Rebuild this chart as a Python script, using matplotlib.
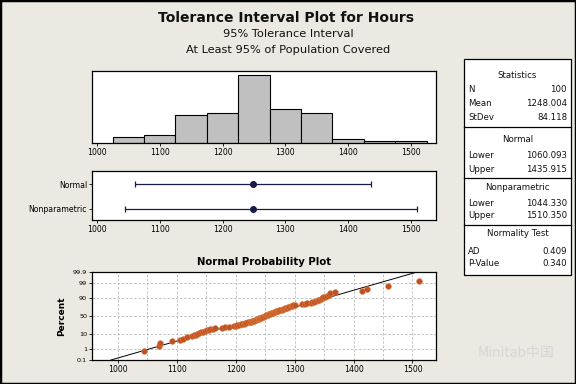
import matplotlib
matplotlib.use("Agg")
import matplotlib.pyplot as plt
from matplotlib.patches import Rectangle
from matplotlib.lines import Line2D
from statistics import NormalDist

# ---------------- data ----------------
hours = [1044.33, 1070, 1072,
         1092, 1106, 1111, 1117,
         1126, 1129, 1132, 1135, 1138, 1141, 1144, 1147, 1151, 1154, 1157, 1161, 1165,
         1177, 1182, 1188, 1197, 1200, 1203, 1206, 1209, 1211, 1214, 1216, 1218, 1221, 1224,
         1226, 1228, 1229, 1231, 1233, 1234, 1236, 1237, 1239, 1240, 1242, 1243, 1244, 1246,
         1247, 1249, 1250, 1251, 1253, 1254, 1256, 1257, 1259, 1260, 1262, 1263, 1265, 1267,
         1268, 1270, 1272, 1274,
         1276, 1278, 1280, 1282, 1283, 1285, 1287, 1289, 1291, 1293, 1295, 1297, 1300, 1313, 1317, 1321,
         1327, 1330, 1333, 1336, 1339, 1341, 1344, 1346, 1349, 1352, 1355, 1358, 1360, 1369,
         1414, 1423, 1459, 1510.35]
bin_edges = [1025, 1075, 1125, 1175, 1225, 1275, 1325, 1375, 1425, 1475, 1525]

interval_labels = ["Normal", "Nonparametric"]
interval_lower = [1060.093, 1044.330]
interval_upper = [1435.915, 1510.350]
mean_value = 1248.004
stdev_value = 84.118

prob_ticks = [0.1, 1, 10, 50, 90, 99, 99.9]
prob_tick_labels = ["0.1", "1", "10", "50", "90", "99", "99.9"]

table_rows = [
    ("header", "Statistics", ""),
    ("row", "N", "100"),
    ("row", "Mean", "1248.004"),
    ("row", "StDev", "84.118"),
    ("header", "Normal", ""),
    ("row", "Lower", "1060.093"),
    ("row", "Upper", "1435.915"),
    ("header", "Nonparametric", ""),
    ("row", "Lower", "1044.330"),
    ("row", "Upper", "1510.350"),
    ("header", "Normality Test", ""),
    ("row", "AD", "0.409"),
    ("row", "P-Value", "0.340"),
]

# ---------------- figure ----------------
W, H = 576, 384
BG = "#ECE9E2"
fig = plt.figure(figsize=(W / 100, H / 100), dpi=100, facecolor=BG)
plt.rcParams["font.family"] = ["DejaVu Sans"]


def px_axes(left, top, right, bottom):
    return fig.add_axes([left / W, 1 - bottom / H, (right - left) / W, (bottom - top) / H])


def fx(x):
    return x / W


def fy(y):
    return 1 - y / H


TICK_FS = 5.6

# titles
fig.text(fx(286), fy(18), "Tolerance Interval Plot for Hours", ha="center", va="center",
         fontsize=10, fontweight="bold", color="#111111")
fig.text(fx(288), fy(34), "95% Tolerance Interval", ha="center", va="center",
         fontsize=8.2, color="#111111")
fig.text(fx(288), fy(50), "At Least 95% of Population Covered", ha="center", va="center",
         fontsize=8.2, color="#111111")

# ---------------- histogram ----------------
ax1 = px_axes(92, 71, 436, 143)
ax1.hist(hours, bins=bin_edges, color="#C0C0C0", edgecolor="black", linewidth=0.8)
ax1.set_xlim(992, 1540)
ax1.set_ylim(0, 34)
ax1.set_yticks([])
ax1.set_xticks([1000, 1100, 1200, 1300, 1400, 1500])
ax1.tick_params(axis="x", labelsize=TICK_FS, length=2, width=0.6, pad=1.5)

# ---------------- interval plot ----------------
ax2 = px_axes(92, 171, 436, 220)
ypos = [1, 0]
for y, lo, hi in zip(ypos, interval_lower, interval_upper):
    ax2.errorbar([mean_value], [y], xerr=[[mean_value - lo], [hi - mean_value]],
                 fmt="o", color="#1A1A4A", ecolor="#1A1A4A", elinewidth=0.9,
                 capsize=2.5, capthick=0.9, markersize=4)
ax2.set_xlim(992, 1540)
ax2.set_ylim(-0.44, 1.52)
ax2.set_yticks(ypos)
ax2.set_yticklabels(interval_labels)
ax2.set_xticks([1000, 1100, 1200, 1300, 1400, 1500])
ax2.tick_params(labelsize=TICK_FS, length=2, width=0.6, pad=1.5)

# ---------------- probability plot ----------------
nd = NormalDist()
ax3 = px_axes(92, 272, 436, 360)
xs = sorted(hours)
n = len(xs)
zs = [nd.inv_cdf((i + 1 - 0.3) / (n + 0.4)) for i in range(n)]
z_lo, z_hi = nd.inv_cdf(0.001), nd.inv_cdf(0.999)
ax3.plot([mean_value + z_lo * stdev_value, mean_value + z_hi * stdev_value], [z_lo, z_hi],
         color="black", lw=0.7, zorder=2)
ax3.scatter(xs, zs, s=17, color="#BC5226", edgecolor="#E07A3A", linewidth=0.4, zorder=3)
ax3.set_xlim(956, 1540)
ax3.set_ylim(z_lo, z_hi)
ax3.set_yticks([nd.inv_cdf(p / 100) for p in prob_ticks])
ax3.set_yticklabels(prob_tick_labels)
ax3.set_xticks([1000, 1100, 1200, 1300, 1400, 1500])
ax3.set_xticks([1050, 1150, 1250, 1350, 1450], minor=True)
ax3.tick_params(axis="both", labelsize=TICK_FS, length=2, width=0.6, pad=1.5)
ax3.tick_params(axis="y", labelsize=4.6)
ax3.tick_params(axis="x", which="minor", length=0)
ax3.grid(True, which="both", color="#B8B8B8", linestyle=(0, (3, 2)), linewidth=0.6)
ax3.set_axisbelow(True)
ax3.set_title("Normal Probability Plot", fontsize=7.3, fontweight="bold", pad=5)
ax3.set_ylabel("Percent", fontsize=6.5, fontweight="bold", labelpad=5)

for ax in (ax1, ax2, ax3):
    for s in ax.spines.values():
        s.set_color("black")
        s.set_linewidth(0.9)
    ax.set_facecolor("white")

# ---------------- statistics table ----------------
TL, TR, TT, TB = 464, 571, 59, 275
fig.patches.append(Rectangle((fx(TL), fy(TB)), (TR - TL) / W, (TB - TT) / H,
                             transform=fig.transFigure, facecolor="white",
                             edgecolor="black", linewidth=0.9, zorder=1))
row_y = [75, 89, 103, 117, 139, 156, 169, 187, 203, 216, 234, 251, 264]
dividers = [127, 178, 225]
for d in dividers:
    fig.lines.append(Line2D([fx(TL), fx(TR)], [fy(d), fy(d)], transform=fig.transFigure,
                            color="black", linewidth=0.9, zorder=2))
TFS = 6.2
for (kind, a, b), y in zip(table_rows, row_y):
    if kind == "header":
        fig.text(fx((TL + TR) / 2), fy(y), a, ha="center", va="center", fontsize=TFS,
                 color="#111111", zorder=3)
    else:
        fig.text(fx(TL + 4), fy(y), a, ha="left", va="center", fontsize=TFS,
                 color="#111111", zorder=3)
        fig.text(fx(TR - 4), fy(y), b, ha="right", va="center", fontsize=TFS,
                 color="#111111", zorder=3)

# watermark
fig.text(fx(478), fy(353), "Minitab中国", ha="left", va="center", fontsize=10,
         family=["Noto Sans CJK SC", "DejaVu Sans"], color="#D4D4D4", alpha=0.9)

# outer frame
fig.patches.append(Rectangle((0, 0), 1, 1, transform=fig.transFigure, fill=False,
                             edgecolor="black", linewidth=2.5, zorder=10))

fig.savefig("out.png", dpi=100, facecolor=BG)
